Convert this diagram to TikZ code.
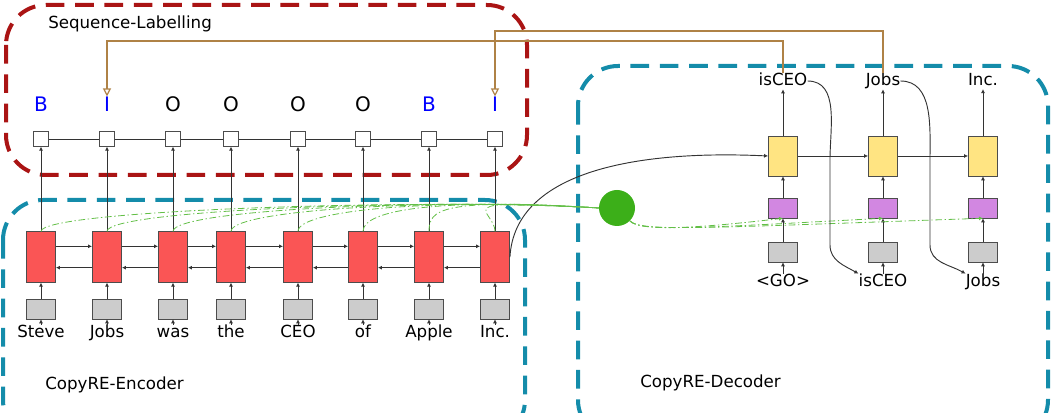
\documentclass[tikz,border=0pt]{standalone}
\usepackage{fontspec}
\setmainfont{DejaVu Sans}
\usetikzlibrary{arrows.meta,positioning}
\definecolor{seqred}{RGB}{170,20,20}
\definecolor{copyblue}{RGB}{20,140,170}
\definecolor{cellred}{RGB}{250,85,85}
\definecolor{cellyellow}{RGB}{255,228,130}
\definecolor{cellpurple}{RGB}{210,135,225}
\definecolor{attgreen}{RGB}{60,175,25}
\definecolor{linkbrown}{RGB}{175,130,70}
\begin{document}
\begin{tikzpicture}[x=0.75pt,y=-0.75pt,font=\fontsize{12.5}{14}\selectfont,
    every node/.style={inner sep=0pt},
    % Define node styles
    enc/.style={draw=black!70, fill=cellred, minimum width=22pt, minimum height=38pt},
    dec/.style={draw=black!70, fill=cellyellow, minimum width=22pt, minimum height=30pt},
    mix/.style={draw=black!70, fill=cellpurple, minimum width=22pt, minimum height=15pt},
    emb/.style={draw=black!70, fill=black!20, minimum width=22pt, minimum height=15pt},
    tag/.style={draw=black!70, fill=white, minimum size=11pt},
    region/.style={dashed, line width=3pt, dash pattern=on 14pt off 8pt, rounded corners=30pt},
    arr/.style={-{Latex[length=3pt,width=3pt]}, black!80, line width=0.7pt},
    att/.style={attgreen!80, line width=0.6pt, dash pattern=on 5pt off 2pt on 1pt off 2pt},
    copy/.style={linkbrown, line width=0.9pt, -{Triangle[open, length=6pt, width=6pt]}}]
    \useasboundingbox (0,0) rectangle (1051,413);

    % Draw the regions
    \draw[region, seqred] (6,5) rectangle (527,175);
    \draw[region, copyblue] (3,200) rectangle (525,440);
    \draw[region, copyblue] (578,66) rectangle (1048,440);
    \node[anchor=west] (seqlabel) at (48,24) {Sequence-Labelling};
    \node[anchor=west] (enclabel) at (45,385) {CopyRE-Encoder};
    \node[anchor=west] (declabel) at (640,383) {CopyRE-Decoder};

    % Draw the encoder
    \foreach \x/\w/\t/\c [count=\i] in {41/Steve/B/blue, 107/Jobs/I/blue, 173/was/O/black,
        231/the/O/black, 298/CEO/O/black, 363/of/O/black, 429/Apple/B/blue, 495/Inc./I/blue} {
        \node[enc] (h\i) at (\x,257) {};
        \node[emb] (e\i) at (\x,309) {};
        \node (w\i) at (\x,333) {\vphantom{Jg}\w};
        \node[tag] (t\i) at (\x,139) {};
        \node[text=\c, font=\fontsize{15}{17}\selectfont] (l\i) at (\x,104) {\t};
        \draw[arr] (w\i) -- (e\i);
        \draw[arr] (e\i) -- (h\i);
        \draw[arr] (h\i) -- (t\i);
    }
    \foreach \i [evaluate=\i as \j using int(\i+1)] in {1,...,7} {
        \draw[arr] ([yshift=8pt]h\i.east) -- ([yshift=8pt]h\j.west);
        \draw[arr] ([yshift=-8pt]h\j.west) -- ([yshift=-8pt]h\i.east);
        \draw[black!80, line width=0.7pt] (t\i) -- (t\j);
    }

    % Draw the decoder
    \node[circle, fill=attgreen, minimum size=27pt] (ctx) at (617,208) {};
    \foreach \x/\o/\w [count=\i] in {783/isCEO/<GO>, 883/Jobs/isCEO, 983/Inc./Jobs} {
        \node[dec] (s\i) at (\x,156) {};
        \node[mix] (m\i) at (\x,208) {};
        \node[emb] (g\i) at (\x,252) {};
        \node (in\i) at (\x,282) {\vphantom{Jg}\w};
        \node (out\i) at (\x,81) {\vphantom{Jg}\o};
        \draw[arr] (in\i) -- (g\i);
        \draw[arr] (g\i) -- (m\i);
        \draw[arr] (m\i) -- (s\i);
        \draw[arr] (s\i) -- (out\i);
        \draw[att, -{Latex[length=3pt,width=3pt]}] (ctx.south east) .. controls (640,232) and (700,228) .. (m\i.south);
    }
    \draw[arr] (s1) -- (s2);
    \draw[arr] (s2) -- (s3);
    \draw[arr] (h8.east) .. controls (515,170) and (640,150) .. (s1.west);
    \draw[arr] (out1.east) to[out=0, in=90] (830,160) -- (830,245) to[out=-90, in=150] (in2.north west);
    \draw[arr] (out2.east) to[out=0, in=90] (930,160) -- (930,245) to[out=-90, in=150] (in3.north west);

    % Draw the attention links
    \foreach \i in {1,...,8} {
        \draw[att] (h\i.north) .. controls +(0,-22) and (440,198) .. (ctx.west);
    }

    % Draw the copy links
    \draw[copy] (out1.north) |- (107,41) -- (l2.north);
    \draw[copy] (out2.north) |- (495,31) -- (l8.north);
\end{tikzpicture}
\end{document}
